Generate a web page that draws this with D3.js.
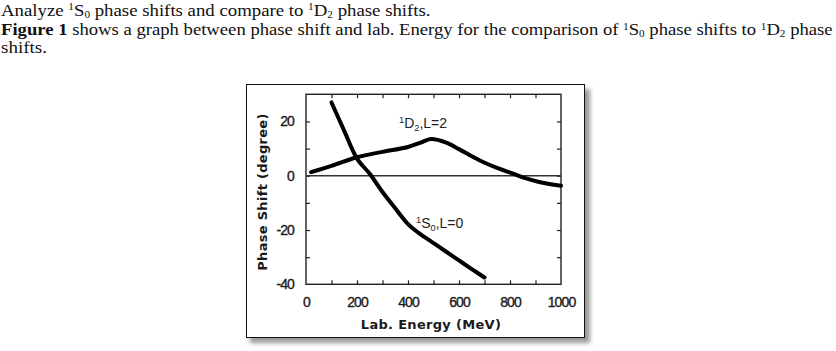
<!DOCTYPE html>
<html>
<head>
<meta charset="utf-8">
<script src="https://cdn.jsdelivr.net/npm/d3@7"></script>
<style>
  body { margin: 0; background: #fff; }
  svg { display: block; }
</style>
</head>
<body>
<div id="chart"></div>
<script>
// Data
const energyS0 = [100, 150, 200, 250, 300, 350, 400, 450, 500, 550, 600, 650, 700];
const phaseS0 = [27, 16.5, 6.3, 0.7, -6, -12, -17.8, -21.6, -24.8, -28, -31.2, -34.4, -37.5];

const energyD2 = [20, 100, 200, 300, 400, 450, 490, 550, 600, 650, 705, 757, 809, 860, 914, 1000];
const phaseD2 = [1.3, 3.6, 6.8, 8.8, 10.6, 12.2, 13.5, 12.2, 9.8, 7.2, 4.6, 2.6, 0.9, -0.9, -2.3, -3.7];

const xTicks = [0, 100, 200, 300, 400, 500, 600, 700, 800, 900, 1000];
const yTicks = [-40, -30, -20, -10, 0, 10, 20, 30];

const width = 836;
const height = 351;

const svg = d3.select("#chart")
    .append("svg")
    .attr("width", width)
    .attr("height", height);

svg.append("rect").attr("width", width).attr("height", height).attr("fill", "#fff");

// rich text helper: parts = [text, kind] where kind is "", "sup", "sub", "b"
function richText(sel, parts, size, supShift = 0.38, subShift = 0.22, small = 0.66) {
    let shift = 0;
    parts.forEach(([t, kind]) => {
        const ts = sel.append("tspan").text(t);
        let target = 0;
        if (kind === "sup") { target = -size * supShift; ts.attr("font-size", size * small); }
        if (kind === "sub") { target = size * subShift; ts.attr("font-size", size * small); }
        if (kind === "b") ts.attr("font-weight", "bold");
        ts.attr("dy", target - shift);
        shift = target;
    });
    return sel;
}

// stretch a header line so it spans the same width as in the scan
function fitWidth(sel, x0, baseline, target) {
    const w = sel.node().getBBox().width;
    sel.attr("transform", `translate(${x0},${baseline}) scale(${target / w},1)`);
}

// Header text
const header = svg.append("g")
    .attr("font-family", "'Liberation Serif', 'Times New Roman', serif")
    .attr("font-size", 17)
    .attr("fill", "#111");

const line1 = richText(header.append("text"), [
    ["Analyze ", ""], ["1", "sup"], ["S", ""], ["0", "sub"],
    [" phase shifts and compare to ", ""], ["1", "sup"], ["D", ""], ["2", "sub"], [" phase shifts.", ""]
], 17, 0.31, 0.13, 0.6);
fitWidth(line1, 1, 15.5, 430);

const line2 = richText(header.append("text"), [
    ["Figure 1", "b"], [" shows a graph between phase shift and lab. Energy for the comparison of ", ""],
    ["1", "sup"], ["S", ""], ["0", "sub"], [" phase shifts to ", ""], ["1", "sup"], ["D", ""], ["2", "sub"], [" phase", ""]
], 17, 0.31, 0.13, 0.6);
fitWidth(line2, 1, 35, 832);

const line3 = header.append("text").text("shifts.");
fitWidth(line3, 1, 53, 46);

// Figure frame with shadow
const defs = svg.append("defs");
defs.append("filter").attr("id", "shadow")
    .append("feGaussianBlur").attr("stdDeviation", 2);

svg.append("rect")
    .attr("x", 250).attr("y", 89)
    .attr("width", 340).attr("height", 254)
    .attr("fill", "#9a9a9a")
    .attr("filter", "url(#shadow)");

svg.append("rect")
    .attr("x", 246.5).attr("y", 84.5)
    .attr("width", 338).attr("height", 253)
    .attr("fill", "#fff")
    .attr("stroke", "#111")
    .attr("stroke-width", 1);

// Scales
const x = d3.scaleLinear().domain([0, 1000]).range([306, 561]);
const y = d3.scaleLinear().domain([-40, 30]).range([284.3, 94.3]);

const plot = svg.append("g");

// Plot box
plot.append("rect")
    .attr("x", x(0)).attr("y", y(30))
    .attr("width", x(1000) - x(0))
    .attr("height", y(-40) - y(30))
    .attr("fill", "none")
    .attr("stroke", "#222")
    .attr("stroke-width", 1.4);

function styleAxis(g) {
    g.select(".domain").remove();
    g.selectAll(".tick line").attr("stroke", "#222").attr("stroke-width", 1.2);
    g.selectAll(".tick text")
        .attr("fill", "#1a1a1a")
        .attr("stroke", "#1a1a1a")
        .attr("stroke-width", 0.35)
        .attr("font-family", "'Liberation Sans', Arial, sans-serif")
        .attr("font-size", 14)
        .attr("letter-spacing", -0.9);
}

// Bottom axis
plot.append("g")
    .attr("transform", `translate(0,${y(-40)})`)
    .call(d3.axisBottom(x).tickValues(xTicks.slice(1, -1)).tickSize(-4).tickFormat(""))
    .call(styleAxis);

plot.append("g")
    .attr("transform", `translate(0,${y(-40)})`)
    .call(d3.axisBottom(x).tickValues(xTicks.filter(d => d % 200 === 0)).tickSize(0).tickPadding(13).tickFormat(d => `${d}`))
    .call(styleAxis);

// Top axis
plot.append("g")
    .attr("transform", `translate(0,${y(30)})`)
    .call(d3.axisTop(x).tickValues(xTicks.slice(1, -1)).tickSize(-4).tickFormat(""))
    .call(styleAxis);

// Left axis
plot.append("g")
    .attr("transform", `translate(${x(0)},0)`)
    .call(d3.axisLeft(y).tickValues(yTicks.slice(1, -1)).tickSize(-4).tickFormat(""))
    .call(styleAxis);

plot.append("g")
    .attr("transform", `translate(${x(0)},0)`)
    .call(d3.axisLeft(y).tickValues(yTicks.filter(d => d % 20 === 0 && d < 30)).tickSize(0).tickPadding(12).tickFormat(d => `${d}`))
    .call(styleAxis);

// Right axis
plot.append("g")
    .attr("transform", `translate(${x(1000)},0)`)
    .call(d3.axisRight(y).tickValues(yTicks.slice(1, -1)).tickSize(-4).tickFormat(""))
    .call(styleAxis);

// Zero line
plot.append("line")
    .attr("x1", x(0)).attr("x2", x(1000))
    .attr("y1", y(0)).attr("y2", y(0))
    .attr("stroke", "#333")
    .attr("stroke-width", 1.4);

// Curves
const line = d3.line()
    .x(d => x(d[0]))
    .y(d => y(d[1]))
    .curve(d3.curveCatmullRom.alpha(0.5));

const seriesS0 = energyS0.map((e, i) => [e, phaseS0[i]]);
const seriesD2 = energyD2.map((e, i) => [e, phaseD2[i]]);

[seriesD2, seriesS0].forEach(s => {
    plot.append("path")
        .datum(s)
        .attr("d", line)
        .attr("fill", "none")
        .attr("stroke", "#000")
        .attr("stroke-width", 4)
        .attr("stroke-linecap", "round")
        .attr("stroke-linejoin", "round");
});

// Curve labels
const labelFont = "'Liberation Sans', Arial, sans-serif";
richText(plot.append("text").attr("x", 399).attr("y", 128)
    .attr("font-family", labelFont).attr("font-size", 14).attr("fill", "#222"),
    [["1", "sup"], ["D", ""], ["2", "sub"], [",L=2", ""]], 14);

richText(plot.append("text").attr("x", 416).attr("y", 228)
    .attr("font-family", labelFont).attr("font-size", 14).attr("fill", "#222"),
    [["1", "sup"], ["S", ""], ["0", "sub"], [",L=0", ""]], 14);

// Axis titles
plot.append("text")
    .attr("x", 431).attr("y", 329)
    .attr("text-anchor", "middle")
    .attr("font-family", "'DejaVu Sans', Verdana, sans-serif")
    .attr("font-weight", "bold")
    .attr("font-size", 13)
    .attr("letter-spacing", 0.3)
    .attr("fill", "#1a1a1a")
    .text("Lab. Energy (MeV)");

plot.append("text")
    .attr("transform", "translate(267,192) rotate(-90)")
    .attr("text-anchor", "middle")
    .attr("font-family", "'DejaVu Sans', Verdana, sans-serif")
    .attr("font-weight", "bold")
    .attr("font-size", 13)
    .attr("letter-spacing", 0.3)
    .attr("fill", "#1a1a1a")
    .text("Phase Shift (degree)");
</script>
</body>
</html>
